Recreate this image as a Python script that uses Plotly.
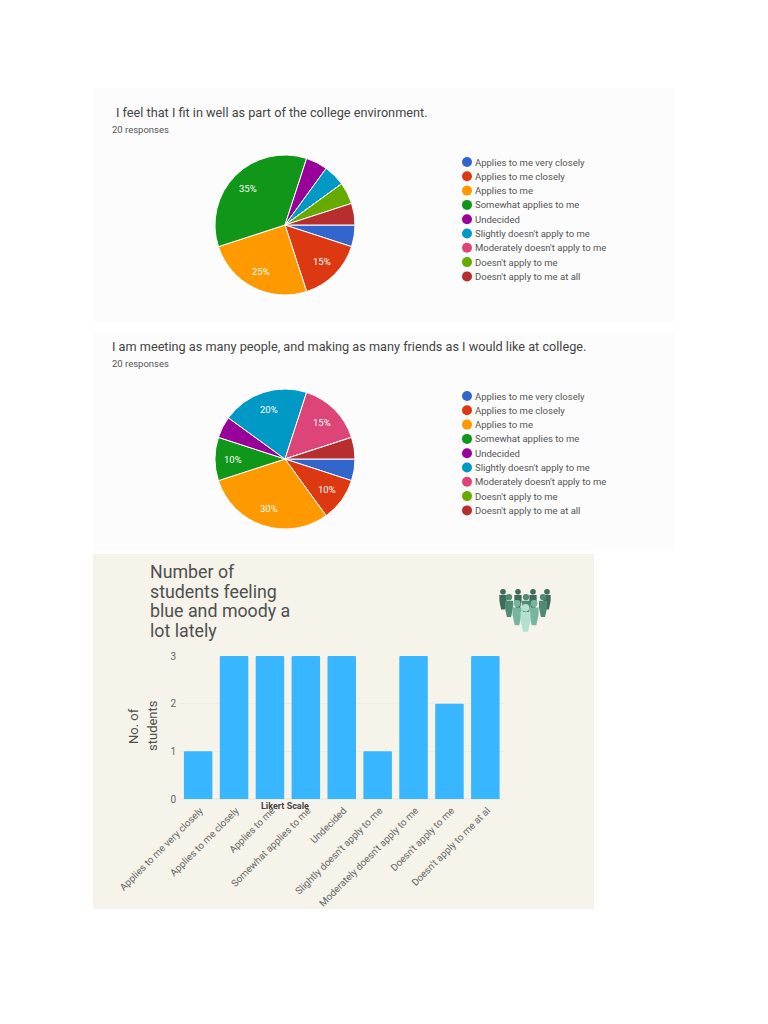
import math
import plotly.graph_objects as go

PAGE_OFFSET = 8
W, H = 752, 1000
legend_labels = ["Applies to me very closely", "Applies to me closely", "Applies to me",
                 "Somewhat applies to me", "Undecided", "Slightly doesn't apply to me",
                 "Moderately doesn't apply to me", "Doesn't apply to me", "Doesn't apply to me at all"]
pie_colors = ["#3366CC", "#DC3912", "#FF9900", "#109618", "#990099", "#0099C6", "#DD4477", "#66AA00", "#B82E2E"]
fit_in_counts = [1, 3, 5, 7, 1, 1, 0, 1, 1]
friends_counts = [1, 2, 6, 2, 1, 4, 3, 0, 1]
bar_categories = ["Applies to me very closely", "Applies to me closely", "Applies to me",
                  "Somewhat applies to me", "Undecided", "Slightly doesn't apply to me",
                  "Moderately doesn't apply to me", "Doesn't apply to me", "Doesn't apply to me at al"]
blue_moody_counts = [1, 3, 3, 3, 3, 1, 3, 2, 3]
y_ticks = [0, 1, 2, 3]

FONT = "Roboto"
def px(x): return (x - PAGE_OFFSET) / W
def py(y): return 1 - (y - PAGE_OFFSET) / H

shapes, annots = [], []
def text(x, y, s, size, color="#555555", bold=False, xanchor="left", angle=0):
    annots.append(dict(xref="paper", yref="paper", x=px(x), y=py(y), text=f"<b>{s}</b>" if bold else s,
                       showarrow=False, xanchor=xanchor, yanchor="middle", textangle=angle,
                       font=dict(family=FONT, size=size, color=color)))

def pie(vals, cx, cy, r):
    total = sum(vals)
    cum = 0
    for v in vals:
        if v / total >= 0.1:
            a = 2 * math.pi * (cum + v / 2) / total
            text(cx + 0.74 * r * math.cos(a), cy + 0.74 * r * math.sin(a), f"{round(v / total * 100)}%",
                 9.5, "#FFFFFF", xanchor="center")
        cum += v
    return go.Pie(values=vals, labels=legend_labels, sort=False, direction="clockwise", rotation=90,
                  marker=dict(colors=pie_colors, line=dict(color="#FFFFFF", width=1)),
                  textinfo="none", showlegend=False,
                  domain=dict(x=[px(cx - r), px(cx + r)], y=[py(cy + r), py(cy - r)]))

fig = go.Figure()
fig.add_trace(pie(fit_in_counts, 285, 225, 70))
fig.add_trace(pie(friends_counts, 285, 459, 70))
fig.add_trace(go.Bar(x=bar_categories, y=blue_moody_counts, marker=dict(color="#38B6FF", line=dict(width=0)),
                     showlegend=False))

def rect(x0, y0, x1, y1, color):
    shapes.append(dict(type="rect", xref="paper", yref="paper", x0=px(x0), x1=px(x1), y0=py(y1), y1=py(y0),
                       fillcolor=color, line=dict(width=0), layer="below"))

rect(93, 88, 675, 322, "#FCFCFC")
rect(93, 332, 675, 550, "#FCFCFC")
rect(93, 554, 594, 909, "#F5F3EA")

text(114, 113, "I feel that I fit in well as part of the college environment.", 12.7, "#444444")
text(110, 129, "20 responses", 9.5)
text(110, 347, "I am meeting as many people, and making as many friends as I would like at college.", 12.7, "#444444")
text(110, 363, "20 responses", 9.5)

for y0 in (162, 396):
    for i, (lab, col) in enumerate(zip(legend_labels, pie_colors)):
        y = y0 + i * 14.3
        shapes.append(dict(type="circle", xref="paper", yref="paper", x0=px(462), x1=px(472), y0=py(y + 5), y1=py(y - 5),
                           fillcolor=col, line=dict(width=0)))
        text(473, y, lab, 9.5)

for y, line in zip((571, 591, 610, 630), ("Number of", "students feeling", "blue and moody a", "lot lately")):
    text(148, y, line, 17.8, "#4F4F4F")
text(133, 726, "No. of", 13, "#4F4F4F", xanchor="center", angle=-90)
text(152, 726, "students", 13, "#4F4F4F", xanchor="center", angle=-90)
text(285, 806, "Likert Scale", 9, "#444444", bold=True, xanchor="center")

def person(cx, top, s, color):
    r = 3.3 * s
    hw = 4.3 * s
    y0 = top + 2 * r + 0.5
    p = (f"M {px(cx-hw)} {py(y0)} L {px(cx+hw)} {py(y0)} L {px(cx+hw)} {py(y0+7*s)} L {px(cx+2.2*s)} {py(y0+17*s)} "
         f"L {px(cx-2.2*s)} {py(y0+17*s)} L {px(cx-hw)} {py(y0+7*s)} Z")
    shapes.append(dict(type="path", xref="paper", yref="paper", path=p, fillcolor=color, line=dict(width=0)))
    shapes.append(dict(type="circle", xref="paper", yref="paper", x0=px(cx-r), x1=px(cx+r), y0=py(top+2*r), y1=py(top),
                       fillcolor=color, line=dict(width=0)))

for cx in (503, 518, 533, 547):
    person(cx, 589, 0.85, "#3E6B5C")
for cx in (509, 526, 543):
    person(cx, 594, 0.95, "#4F8A75")
for cx in (517, 534):
    person(cx, 600, 1.05, "#77B5A0")
person(525.5, 604, 1.15, "#B3E0D0")

fig.update_layout(
    width=W, height=H, autosize=False, margin=dict(l=0, r=0, t=0, b=0, pad=0, autoexpand=False),
    paper_bgcolor="#FFFFFF", plot_bgcolor="rgba(0,0,0,0)",
    font=dict(family=FONT), shapes=shapes, annotations=annots,
    bargap=0.206, barcornerradius=1,
    xaxis=dict(domain=[px(180.2), px(503.3)], tickangle=-45, tickfont=dict(family=FONT, size=9.8, color="#666666"),
               showgrid=False, zeroline=False, showline=False, ticks="", automargin=False, ticklabelstandoff=3,
               ticklabelshift=2),
    yaxis=dict(domain=[py(799), py(656)], range=[0, 3], tickvals=y_ticks, automargin=False, ticklabelstandoff=3,
               tickfont=dict(family=FONT, size=10, color="#666666"),
               gridcolor="#EEECE4", zeroline=True, zerolinecolor="#EEECE4", showline=False, ticks=""),
)
fig.write_html("out.html")
